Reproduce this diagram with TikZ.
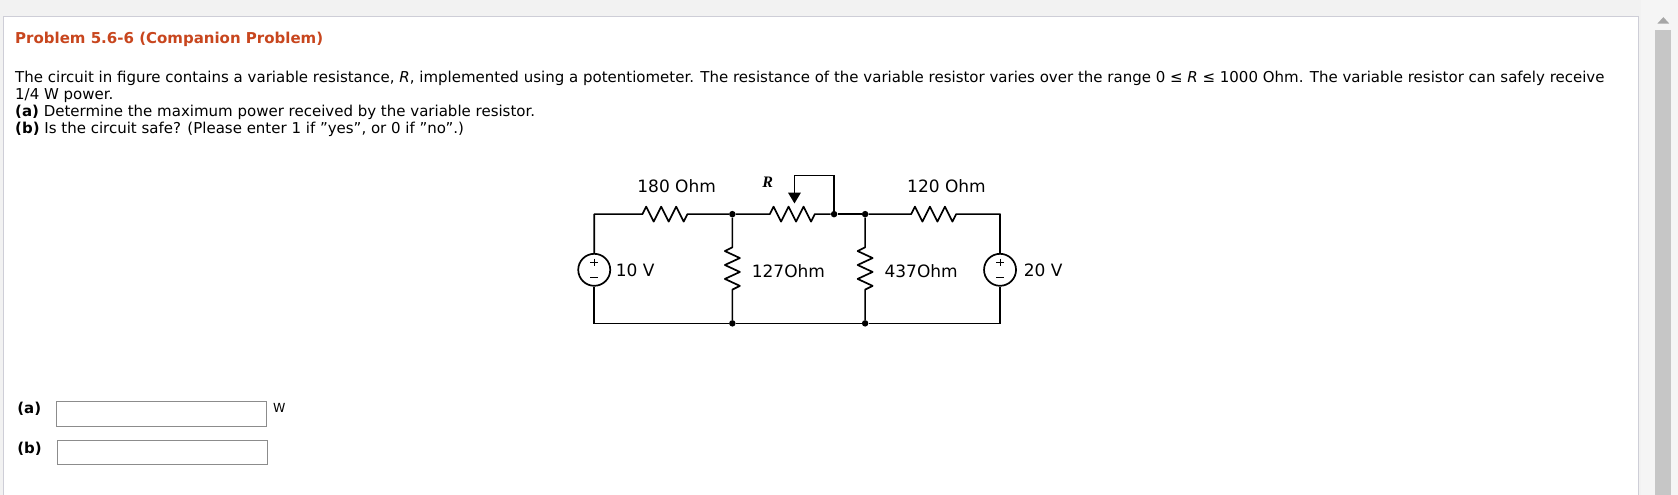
\documentclass[tikz,border=0pt]{standalone}
\usepackage{fontspec}
\setmainfont{DejaVu Sans}
\definecolor{ttl}{HTML}{C8461E}
\begin{document}
\begin{tikzpicture}[x=1.0707pt,y=-1.0707pt,
  txt/.style={anchor=west,inner sep=0pt,font=\fontsize{15}{17}\selectfont},
  ctxt/.style={inner sep=0pt,font=\fontsize{17}{19}\selectfont},
  wire/.style={line width=1.7pt},
  dot/.style={circle,fill=black,inner sep=0pt,minimum size=6.5pt},
  box/.style={draw=gray!90,line width=0.8pt}]
\useasboundingbox (0,0) rectangle (1567.2,462.3);
\fill[gray!10] (0,0) rectangle (1567.2,462.3);
\fill[white,draw=blue!10!gray!35] (3,15) rectangle (1530,470);
\fill[gray!8] (1533,0) rectangle (1567.2,462.3);
\fill[gray!45] (1546,28) rectangle (1561,462.3);
\fill[gray!70] (1548,22) -- (1559,22) -- (1553.5,16) -- cycle;
% text
\node[txt,font=\fontsize{15}{17}\selectfont\bfseries,text=ttl] (title) at (14,37) {Problem 5.6-6 (Companion Problem)};
\node[txt] (l1) at (14,73) {The circuit in figure contains a variable resistance, \textit{R}, implemented using a potentiometer. The resistance of the variable resistor varies over the range 0 ≤ \textit{R} ≤ 1000 Ohm. The variable resistor can safely receive};
\node[txt] (l2) at (14,89) {1/4 W power.};
\node[txt] (l3) at (14,105) {\textbf{(a)} Determine the maximum power received by the variable resistor.};
\node[txt] (l4) at (14,121) {\textbf{(b)} Is the circuit safe? (Please enter 1 if "yes", or 0 if "no".)};
\node[txt] (qa) at (16,382) {\textbf{(a)}};
\node[txt] (qb) at (16,419) {\textbf{(b)}};
\node[box,minimum width=210pt,minimum height=24.6pt,inner sep=0pt] (ba) at (151,386.5) {};
\node[box,minimum width=210pt,minimum height=24.6pt,inner sep=0pt] (bb) at (152,422.5) {};
\node[txt,font=\fontsize{12.5}{13}\selectfont] (w) at (255,381) {W};
% circuit coordinates
\coordinate (tl) at (555,200); \coordinate (bl) at (555,302);
\coordinate (tr) at (934,200); \coordinate (br) at (934,302);
\node[dot] (n1) at (684,200) {}; \node[dot] (n1b) at (684,302) {};
\node[dot] (np) at (779,200) {};
\node[dot] (n2) at (808,200) {}; \node[dot] (n2b) at (808,302) {};
\node[circle,draw,line width=1.7pt,minimum size=32pt,inner sep=0pt] (s1) at (555,252) {};
\node[circle,draw,line width=1.7pt,minimum size=32pt,inner sep=0pt] (s2) at (934,252) {};
\foreach \cx in {555,934}{
 \draw[line width=0.9pt] (\cx-3.5,245) -- (\cx+3.5,245) (\cx,241.5) -- (\cx,248.5);
 \draw[line width=0.9pt] (\cx-3.5,259) -- (\cx+3.5,259);}
\draw[wire,line join=round] (s1.north) -- (tl) -- (600,200) -- ++(3.5,-7) -- ++(7,14) -- ++(7,-14) -- ++(7,14) -- ++(7,-14) -- ++(7,14) -- ++(3.5,-7) -- (n1);
\draw[wire,line join=round] (n1) -- (719,200) -- ++(3.5,-7) -- ++(7,14) -- ++(7,-14) -- ++(7,14) -- ++(7,-14) -- ++(7,14) -- ++(3.5,-7) -- (np);
\draw[wire] (np) -- (n2);
\draw[wire,line join=round] (n2) -- (851,200) -- ++(3.5,-7) -- ++(7,14) -- ++(7,-14) -- ++(7,14) -- ++(7,-14) -- ++(7,14) -- ++(3.5,-7) -- (tr) -- (s2.north);
\draw[wire] (s1.south) -- (bl) -- (n1b) -- (n2b) -- (br) -- (s2.south);
\draw[wire,line join=round] (n1) -- (684,231) -- ++(-7,3.5) -- ++(14,6.5) -- ++(-14,6.5) -- ++(14,6.5) -- ++(-14,6.5) -- ++(14,6.5) -- ++(-7,3.5) -- (n1b);
\draw[wire,line join=round] (n2) -- (808,231) -- ++(-7,3.5) -- ++(14,6.5) -- ++(-14,6.5) -- ++(14,6.5) -- ++(-14,6.5) -- ++(14,6.5) -- ++(-7,3.5) -- (n2b);
\coordinate (wt) at (742,181);
\draw[wire] (np) -- (779,164) -- (742,164) -- (wt);
\fill (736,180) -- (748,180) -- (742,190) -- cycle;
% labels
\node[ctxt] (l180) at (632,174) {180 Ohm};
\node[inner sep=0pt,font=\fontsize{16}{17}\selectfont\fontspec{Liberation Serif}\bfseries\itshape] (lR) at (717,170) {R};
\node[ctxt] (l120) at (884,174) {120 Ohm};
\node[ctxt,anchor=west] (l10) at (575,252) {10 V};
\node[ctxt,anchor=west] (l127) at (702,253) {127Ohm};
\node[ctxt,anchor=west] (l437) at (826,253) {437Ohm};
\node[ctxt,anchor=west] (l20) at (956,252) {20 V};
\end{tikzpicture}
\end{document}
